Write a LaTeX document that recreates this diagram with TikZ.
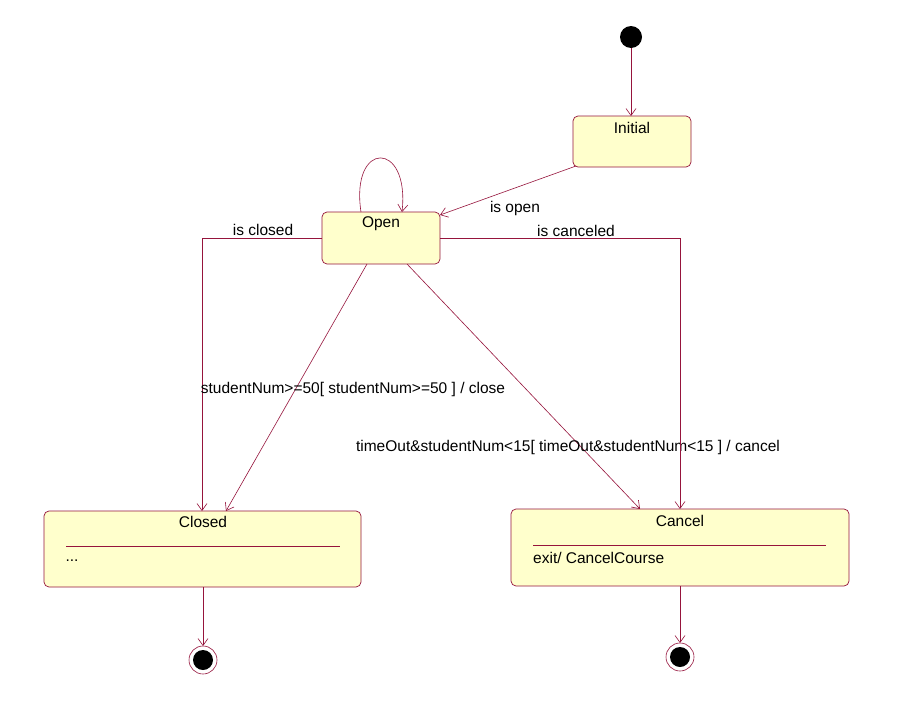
\documentclass[tikz,border=0pt]{standalone}
\usepackage{fontspec}
\setmainfont{Liberation Sans}
\usetikzlibrary{arrows.meta}
\definecolor{ln}{RGB}{150,20,60}
\definecolor{fl}{RGB}{255,255,204}
\begin{document}
\begin{tikzpicture}[x=1pt,y=-1pt,
  every node/.style={font=\fontsize{15.5}{18}\selectfont},
  st/.style={draw=ln,fill=fl,rounded corners=5pt,line width=0.7pt},
  tr/.style={draw=ln,line width=0.6pt,-{Straight Barb[length=7pt,width=10pt]}},
  lbl/.style={inner sep=1pt}]
\useasboundingbox[fill=white] (0,0) rectangle (908,723);
\fill[black] (631,37) circle (11);
\node[circle,inner sep=0pt,minimum size=2pt] (init) at (631,37) {};
\path[st] (573,116) rectangle (691,167);
\node[minimum width=118pt,minimum height=51pt,inner sep=0] (I) at (632,141.5) {};
\node at (632,128) {Initial};
\path[st] (322,212) rectangle (440,264);
\node[minimum width=118pt,minimum height=52pt,inner sep=0] (O) at (381,238) {};
\node at (381,224) {Open};
\path[st] (44,511) rectangle (361,587);
\node[minimum width=317pt,minimum height=76pt,inner sep=0] (C) at (202.5,549) {};
\node at (203,522) {Closed};
\draw[ln,line width=0.6pt] (66,546) -- (340,546);
\node[anchor=west] at (62,561) {...};
\path[st] (511,509) rectangle (849,586);
\node[minimum width=338pt,minimum height=77pt,inner sep=0] (X) at (680,547.5) {};
\node at (680,521) {Cancel};
\draw[ln,line width=0.6pt] (533,545) -- (826,545);
\node[anchor=west,inner sep=0] at (533,558) {exit/ CancelCourse};
\coordinate (f1) at (203,646);
\coordinate (f2) at (680,643);
\draw[ln,fill=white,line width=0.6pt] (203,660) circle (14);
\fill[black] (203,660) circle (10);
\draw[ln,fill=white,line width=0.6pt] (680,657) circle (14);
\fill[black] (680,657) circle (10);
\draw[tr] (631,48) -- (631,116);
\draw[tr] (576,166) -- (440,215);
\node[lbl] at (515,208) {is open};
\draw[tr] (361,212) .. controls (350,140) and (410,140) .. (402,212);
\draw[tr] (322,238) -- (202,238) -- (202,511);
\node[lbl] at (263,230) {is closed};
\draw[tr] (367,264) -- (226,511);
\node[lbl] at (353,389) {studentNum>=50[ studentNum>=50 ] / close};
\draw[tr] (407,264) -- (640,509);
\node[lbl] at (568,447) {timeOut\&studentNum<15[ timeOut\&studentNum<15 ] / cancel};
\draw[tr] (440,238) -- (680,238) -- (680,509);
\node[lbl] at (576,231) {is canceled};
\draw[tr] (203,587) -- (f1);
\draw[tr] (680,586) -- (f2);
\end{tikzpicture}
\end{document}
